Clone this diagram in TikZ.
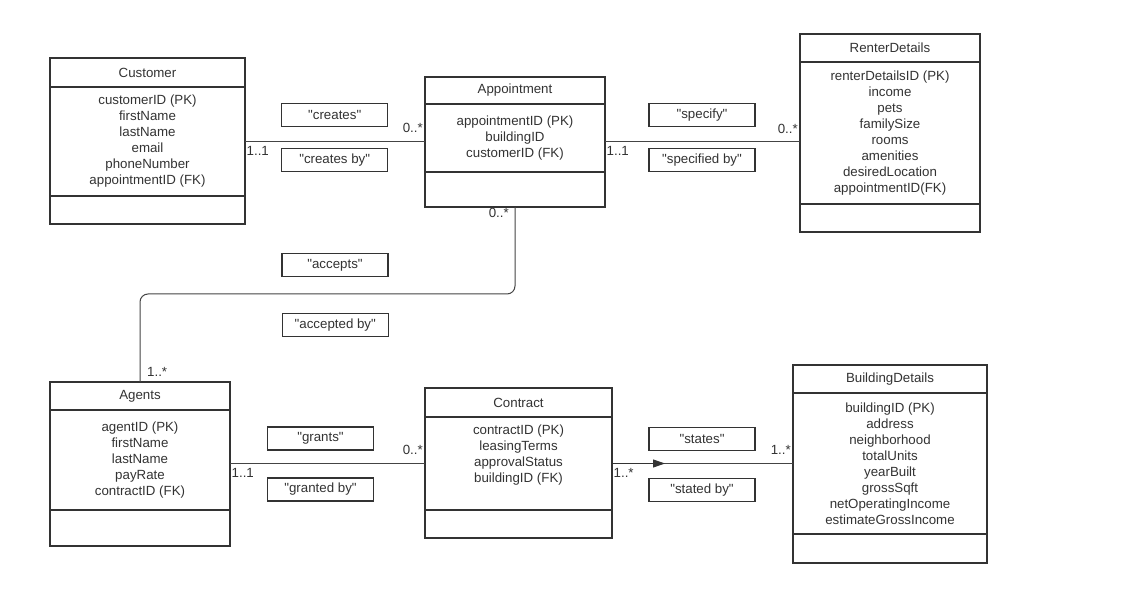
\documentclass[tikz,border=0pt]{standalone}
\usepackage{fontspec}
\setmainfont{Liberation Sans}[Ligatures=TeXOff]
\usetikzlibrary{positioning, arrows.meta}
\definecolor{inkgray}{HTML}{333333}
\definecolor{wiregray}{HTML}{444444}

\begin{document}
\begin{tikzpicture}[x=1pt,y=-1pt,
	every node/.style={font=\fontsize{13.3}{16}\selectfont, text=inkgray},
	cls/.style={draw=inkgray, line width=1.2pt, inner sep=0pt, outer sep=0pt, align=center},
	role/.style={draw=inkgray, line width=1.2pt, minimum width=106pt, minimum height=23pt, inner sep=0pt},
	assoc/.style={draw=wiregray, line width=1pt},
	multbelow/.style={inner sep=0pt, anchor=north west, xshift=1.5pt, yshift=-4.5pt},
	multabove/.style={inner sep=0pt, anchor=south east, xshift=-2pt, yshift=8.5pt}]
	\fill[white] (0,0) rectangle (1148,601);
	\useasboundingbox (0,0) rectangle (1148,601);

	% classes
	\node[cls, minimum width=195pt, minimum height=29pt, anchor=north west] (cust) at (50,58) {Customer};
	\node[cls, minimum width=195pt, minimum height=109pt, below=0pt of cust] (custattr) {customerID (PK)\\firstName\\lastName\\email\\phoneNumber\\appointmentID (FK)};
	\node[cls, minimum width=195pt, minimum height=28pt, below=0pt of custattr] (custfoot) {};

	\node[cls, minimum width=180pt, minimum height=27pt, anchor=north west] (appt) at (425,77) {Appointment};
	\node[cls, minimum width=180pt, minimum height=68pt, below=0pt of appt] (apptattr) {appointmentID (PK)\\buildingID\\customerID (FK)};
	\node[cls, minimum width=180pt, minimum height=35pt, below=0pt of apptattr] (apptfoot) {};

	\node[cls, minimum width=180pt, minimum height=28pt, anchor=north west] (renter) at (800,34) {RenterDetails};
	\node[cls, minimum width=180pt, minimum height=142pt, below=0pt of renter] (renterattr) {renterDetailsID (PK)\\income\\pets\\familySize\\rooms\\amenities\\desiredLocation\\appointmentID(FK)};
	\node[cls, minimum width=180pt, minimum height=28pt, below=0pt of renterattr] (renterfoot) {};

	\node[cls, minimum width=180pt, minimum height=28pt, anchor=north west] (agents) at (50,382) {Agents};
	\node[cls, minimum width=180pt, minimum height=100pt, below=0pt of agents] (agentsattr) {agentID (PK)\\firstName\\lastName\\payRate\\contractID (FK)};
	\node[cls, minimum width=180pt, minimum height=36pt, below=0pt of agentsattr] (agentsfoot) {};

	\node[cls, minimum width=187pt, minimum height=29pt, anchor=north west] (contract) at (425,388) {Contract};
	\node[cls, minimum width=187pt, minimum height=93pt, below=0pt of contract] (contractattr) {contractID (PK)\\leasingTerms\\approvalStatus\\buildingID (FK)\\[3pt]~};
	\node[cls, minimum width=187pt, minimum height=28pt, below=0pt of contractattr] (contractfoot) {};

	\node[cls, minimum width=194pt, minimum height=28pt, anchor=north west] (build) at (793,365) {BuildingDetails};
	\node[cls, minimum width=194pt, minimum height=141pt, below=0pt of build] (buildattr) {buildingID (PK)\\address\\neighborhood\\totalUnits\\yearBuilt\\grossSqft\\netOperatingIncome\\estimateGrossIncome};
	\node[cls, minimum width=194pt, minimum height=29pt, below=0pt of buildattr] (buildfoot) {};

	% associations
	\coordinate (bend) at (0,294);
	\draw[assoc] (custattr.east) -- (custattr.east -| apptattr.west);
	\draw[assoc] ([yshift=-4pt]apptattr.east) -- ([yshift=-4pt]apptattr.east -| renterattr.west);
	\draw[assoc, rounded corners=8pt] (apptfoot.south) -- (apptfoot.south |- bend) -| (agents.north);
	\draw[assoc] (agentsattr.east |- contractattr.west) -- (contractattr.west);
	\draw[assoc] (contractattr.east) -- (contractattr.east -| buildattr.west);
	\draw[assoc, draw=inkgray, -{Triangle[length=12pt, width=8pt]}] (contractattr.east) -- ([xshift=53pt]contractattr.east);

	% multiplicities
	\node[multbelow] (mcustcr) at (custattr.east) {1..1};
	\node[multabove] (mapptcr) at (custattr.east -| apptattr.west) {0..*};
	\node[multbelow] (mapptsp) at ([yshift=-4pt]apptattr.east) {1..1};
	\node[multabove] (mrentsp) at ([yshift=-4pt]apptattr.east -| renterattr.west) {0..*};
	\node[inner sep=0pt, anchor=north east, xshift=-6pt, yshift=-1.5pt] (mapptacc) at (apptfoot.south) {0..*};
	\node[inner sep=0pt, anchor=south west, xshift=7pt, yshift=5.5pt] (magentacc) at (agents.north) {1..*};
	\node[multbelow] (magentgr) at (agentsattr.east |- contractattr.west) {1..1};
	\node[multabove] (mcontgr) at (contractattr.west) {0..*};
	\node[multbelow] (mcontst) at (contractattr.east) {1..*};
	\node[multabove] (mbuildst) at (contractattr.east -| buildattr.west) {1..*};

	% roles
	\node[role] (creates) at (334.7,115) {"creates"};
	\node[role] (createsby) at (334.7,160) {"creates by"};
	\node[role] (specify) at (702,115) {"specify"};
	\node[role] (specifiedby) at (702,160.3) {"specified by"};
	\node[role] (accepts) at (335,265) {"accepts"};
	\node[role] (acceptedby) at (335.3,325) {"accepted by"};
	\node[role] (grants) at (320.5,438.5) {"grants"};
	\node[role] (grantedby) at (320.5,489.5) {"granted by"};
	\node[role] (states) at (702,439) {"states"};
	\node[role] (statedby) at (702,490) {"stated by"};
\end{tikzpicture}
\end{document}
